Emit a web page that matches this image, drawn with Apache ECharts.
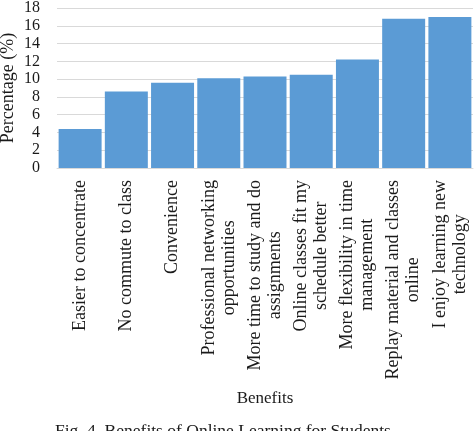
<!DOCTYPE html>
<html>
<head>
<meta charset="utf-8">
<script src="https://cdn.jsdelivr.net/npm/echarts@6/dist/echarts.min.js"></script>
<style>
  html, body { margin: 0; padding: 0; background: #fff; }
  #main { width: 474px; height: 431px; }
</style>
</head>
<body>
<div id="main"></div>
<script>
// categories (line breaks as in the figure)
var categories = [
    'Easier to concentrate',
    'No commute to class',
    'Convenience',
    'Professional networking\nopportunities',
    'More time to study and do\nassignments',
    'Online classes fit my\nschedule better',
    'More flexibility in time\nmanagement',
    'Replay material and classes\nonline',
    'I enjoy learning new\ntechnology'
];
var percentages = [4.4, 8.6, 9.6, 10.1, 10.3, 10.5, 12.2, 16.8, 17.0];
var yTicks = { min: 0, max: 18, interval: 2 };

var serif = '"Liberation Serif", "DejaVu Serif", serif';

var myChart = echarts.init(document.getElementById('main'));
var option = {
    backgroundColor: '#fff',
    animation: false,
    textStyle: { fontFamily: serif },
    grid: { left: 57, right: 1, top: 8, bottom: 263, containLabel: false, outerBoundsMode: 'none' },
    xAxis: {
        type: 'category',
        data: categories,
        name: 'Benefits',
        nameLocation: 'middle',
        nameGap: 222,
        nameTextStyle: { fontFamily: serif, fontSize: 17, color: '#1a1a1a' },
        axisLine: { show: true, lineStyle: { color: '#d9d9d9' } },
        axisTick: { show: false },
        axisLabel: {
            interval: 0,
            rotate: 90,
            margin: 12,
            fontFamily: serif,
            fontSize: 18,
            color: '#1a1a1a',
            formatter: function (v) {
                return v.split('\n').map(function (s) { return '{c|' + s + '}'; }).join('\n');
            },
            rich: {
                c: { align: 'center', fontFamily: serif, fontSize: 18, color: '#1a1a1a', lineHeight: 20 }
            }
        }
    },
    yAxis: {
        type: 'value',
        min: yTicks.min,
        max: yTicks.max,
        interval: yTicks.interval,
        name: 'Percentage (%)',
        nameLocation: 'middle',
        nameGap: 40,
        nameMoveOverlap: false,
        nameTextStyle: { fontFamily: serif, fontSize: 18, color: '#1a1a1a' },
        axisLine: { show: false },
        axisTick: { show: false },
        axisLabel: { margin: 17, fontFamily: serif, fontSize: 16, color: '#1a1a1a' },
        splitLine: { lineStyle: { color: '#d9d9d9', width: 1 } }
    },
    series: [
        {
            name: 'Percentage',
            type: 'bar',
            data: percentages,
            barCategoryGap: '7%',
            itemStyle: { color: '#5b9bd5' }
        }
    ],
    graphic: [
        {
            type: 'text',
            left: 55,
            top: 422,
            style: {
                text: 'Fig. 4. Benefits of Online Learning for Students',
                font: '17.5px ' + serif,
                fill: '#1a1a1a'
            }
        }
    ]
};
myChart.setOption(option);
</script>
</body>
</html>
